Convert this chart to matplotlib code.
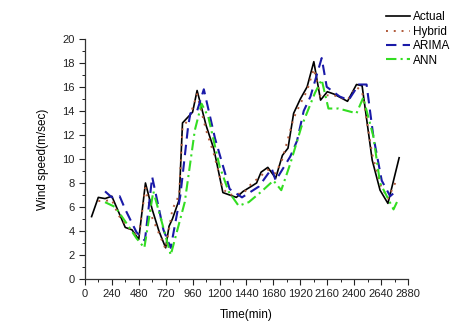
import matplotlib
matplotlib.use("Agg")
import matplotlib.pyplot as plt
from matplotlib.ticker import MultipleLocator

plt.rcParams["font.family"] = ["Liberation Sans", "DejaVu Sans"]

# measured wind speed
actual_t = [60, 120, 180, 240, 300, 360, 420, 480, 540, 600, 660, 720, 750, 780, 840, 870,
            930, 960, 1000, 1080, 1150, 1230, 1350, 1410, 1480, 1530, 1570, 1630, 1700, 1760,
            1810, 1860, 1920, 1980, 2040, 2100, 2160, 2220, 2340, 2420, 2470, 2560, 2630,
            2700, 2800]
actual_v = [5.2, 6.8, 6.7, 6.9, 5.6, 4.3, 4.1, 3.3, 8.0, 5.8, 4.0, 2.6, 4.4, 5.0, 6.6, 13.0,
            13.6, 13.9, 15.7, 12.8, 10.8, 7.2, 6.8, 7.3, 7.7, 8.0, 8.9, 9.3, 8.4, 10.3,
            10.9, 13.8, 15.0, 16.0, 18.1, 14.9, 15.6, 15.4, 14.8, 16.2, 16.1, 9.9, 7.4,
            6.3, 10.1]

# hybrid model forecast
hybrid_t = [120, 180, 240, 300, 360, 420, 480, 540, 600, 660, 720, 780, 840, 870, 930,
            1000, 1080, 1150, 1230, 1290, 1350, 1410, 1480, 1570, 1630, 1700, 1760, 1860,
            1920, 1980, 2040, 2100, 2160, 2220, 2340, 2420, 2470, 2560, 2630, 2700, 2780]
hybrid_v = [6.5, 6.5, 6.6, 5.3, 4.6, 4.0, 3.5, 7.6, 5.1, 3.8, 2.5, 5.8, 7.0, 12.6, 13.4,
            15.4, 12.4, 10.4, 7.5, 7.0, 7.1, 7.1, 7.9, 8.6, 9.1, 8.8, 10.0, 13.4,
            14.6, 15.7, 17.5, 15.2, 15.3, 15.3, 14.9, 16.0, 15.6, 10.4, 7.9, 6.7, 8.3]

# ARIMA forecast
arima_t = [180, 240, 310, 360, 460, 535, 600, 700, 765, 850, 920, 940, 1000, 1060, 1160,
           1290, 1400, 1550, 1665, 1700, 1830, 1890, 1950, 2010, 2110, 2155, 2270, 2350,
           2440, 2510, 2570, 2645, 2720, 2770]
arima_v = [7.3, 6.8, 6.9, 5.8, 3.9, 3.2, 8.5, 4.1, 2.6, 6.9, 12.7, 13.8, 14.0, 15.8, 11.7,
           7.5, 6.8, 7.7, 9.2, 8.2, 10.2, 11.5, 14.0, 15.2, 18.4, 16.0, 15.2, 14.9,
           16.2, 16.2, 11.9, 8.2, 6.9, 7.3]

# ANN forecast
ann_t = [180, 270, 360, 460, 530, 610, 690, 765, 890, 980, 1040, 1100, 1200, 1280, 1370,
         1460, 1575, 1680, 1750, 1830, 1930, 2050, 2110, 2170, 2260, 2420, 2480, 2570,
         2630, 2750, 2790]
ann_v = [6.4, 6.0, 4.8, 3.4, 2.6, 7.3, 4.6, 2.0, 6.4, 12.4, 14.6, 13.5, 9.4, 7.3, 6.1,
         6.4, 7.3, 8.2, 7.4, 9.6, 12.7, 15.5, 16.6, 14.2, 14.2, 13.8, 15.1, 11.9,
         8.0, 5.8, 6.6]

fig = plt.figure(figsize=(4.74, 3.35), dpi=100)
ax = fig.add_axes([0.179, 0.167, 0.682, 0.717])

ax.plot(actual_t, actual_v, color="black", lw=1.2, label="Actual")
ax.plot(hybrid_t, hybrid_v, color="#b05a3a", lw=1.4, linestyle=(0, (1, 3)), label="Hybrid")
ax.plot(arima_t, arima_v, color="#1a1aa8", lw=1.5, linestyle=(0, (5, 3)), label="ARIMA")
ax.plot(ann_t, ann_v, color="#33dd22", lw=1.5, linestyle=(0, (5, 2, 1, 2)), label="ANN")

ax.set_xlim(0, 2880)
ax.set_ylim(0, 20)
ax.xaxis.set_major_locator(MultipleLocator(240))
ax.xaxis.set_minor_locator(MultipleLocator(120))
ax.yaxis.set_major_locator(MultipleLocator(2))
ax.yaxis.set_minor_locator(MultipleLocator(1))

for side in ["top", "right"]:
    ax.spines[side].set_visible(False)
for side in ["left", "bottom"]:
    ax.spines[side].set_linewidth(0.9)
    ax.spines[side].set_color("#333333")

ax.tick_params(which="major", length=4, width=0.8, labelsize=8, colors="#222222")
ax.tick_params(which="minor", length=2, width=0.7, colors="#222222")

ax.set_xlabel("Time(min)", fontsize=8.5, labelpad=7)
ax.set_ylabel("Wind speed(m/sec)", fontsize=8.5, labelpad=9)

fig.legend(loc="upper left", bbox_to_anchor=(0.805, 0.98), frameon=False, fontsize=8.5,
           handlelength=2.0, handletextpad=0.3, labelspacing=0.2, borderaxespad=0)

fig.savefig("out.png", dpi=100)
